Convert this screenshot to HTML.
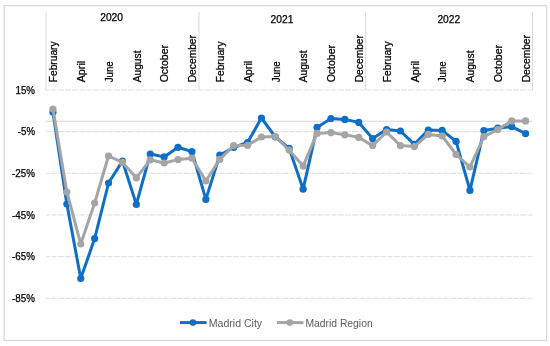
<!DOCTYPE html>
<html lang="en"><head><meta charset="utf-8"><title>Madrid City vs Madrid Region</title>
<style>html,body{margin:0;padding:0;background:#fff;overflow:hidden}svg{display:block}</style></head>
<body>
<svg width="550" height="346" viewBox="0 0 550 346" font-family="'Liberation Sans', sans-serif" font-size="10.0">
<rect x="0" y="0" width="550" height="346" fill="#fff"/>
<rect x="4.15" y="5.6" width="542.4" height="334.9" fill="#fff" stroke="#D9D9D9" stroke-width="1.3"/>
<line x1="46.0" x2="532.5" y1="90.00" y2="90.00" stroke="#DFDFDF" stroke-width="1" stroke-dasharray="5.7 1.3" stroke-dashoffset="1.8"/>
<text x="35.0" y="94" text-anchor="end" textLength="19.5" lengthAdjust="spacingAndGlyphs" fill="#000" stroke="#000" stroke-width="0.25">15%</text>
<line x1="46.0" x2="532.5" y1="131.66" y2="131.66" stroke="#DFDFDF" stroke-width="1" stroke-dasharray="5.7 1.3" stroke-dashoffset="1.8"/>
<text x="35.0" y="135" text-anchor="end" textLength="17.2" lengthAdjust="spacingAndGlyphs" fill="#000" stroke="#000" stroke-width="0.25">-5%</text>
<line x1="46.0" x2="532.5" y1="173.32" y2="173.32" stroke="#DFDFDF" stroke-width="1" stroke-dasharray="5.7 1.3" stroke-dashoffset="1.8"/>
<text x="35.0" y="177" text-anchor="end" textLength="22.9" lengthAdjust="spacingAndGlyphs" fill="#000" stroke="#000" stroke-width="0.25">-25%</text>
<line x1="46.0" x2="532.5" y1="214.98" y2="214.98" stroke="#DFDFDF" stroke-width="1" stroke-dasharray="5.7 1.3" stroke-dashoffset="1.8"/>
<text x="35.0" y="219" text-anchor="end" textLength="22.9" lengthAdjust="spacingAndGlyphs" fill="#000" stroke="#000" stroke-width="0.25">-45%</text>
<line x1="46.0" x2="532.5" y1="256.64" y2="256.64" stroke="#DFDFDF" stroke-width="1" stroke-dasharray="5.7 1.3" stroke-dashoffset="1.8"/>
<text x="35.0" y="260" text-anchor="end" textLength="22.9" lengthAdjust="spacingAndGlyphs" fill="#000" stroke="#000" stroke-width="0.25">-65%</text>
<line x1="46.0" x2="532.5" y1="298.30" y2="298.30" stroke="#DFDFDF" stroke-width="1" stroke-dasharray="5.7 1.3" stroke-dashoffset="1.8"/>
<text x="35.0" y="302" text-anchor="end" textLength="22.9" lengthAdjust="spacingAndGlyphs" fill="#000" stroke="#000" stroke-width="0.25">-85%</text>
<line x1="46.0" x2="532.5" y1="121.25" y2="121.25" stroke="#D6D6D6" stroke-width="1"/>
<line x1="46.00" x2="46.00" y1="12" y2="90.0" stroke="#D9D9D9" stroke-width="1"/>
<line x1="198.90" x2="198.90" y1="12" y2="90.0" stroke="#D9D9D9" stroke-width="1"/>
<line x1="365.70" x2="365.70" y1="12" y2="90.0" stroke="#D9D9D9" stroke-width="1"/>
<line x1="532.50" x2="532.50" y1="12" y2="90.0" stroke="#D9D9D9" stroke-width="1"/>
<text x="111.6" y="21.0" text-anchor="middle" textLength="22.8" lengthAdjust="spacingAndGlyphs" fill="#000" stroke="#000" stroke-width="0.25">2020</text>
<text x="282.0" y="22.7" text-anchor="middle" textLength="22.8" lengthAdjust="spacingAndGlyphs" fill="#000" stroke="#000" stroke-width="0.25">2021</text>
<text x="448.8" y="22.7" text-anchor="middle" textLength="22.8" lengthAdjust="spacingAndGlyphs" fill="#000" stroke="#000" stroke-width="0.25">2022</text>
<text transform="translate(57.25,82.3) rotate(-90)" textLength="40.9" lengthAdjust="spacingAndGlyphs" fill="#000" stroke="#000" stroke-width="0.25">February</text>
<text transform="translate(85.05,82.3) rotate(-90)" textLength="21.5" lengthAdjust="spacingAndGlyphs" fill="#000" stroke="#000" stroke-width="0.25">April</text>
<text transform="translate(112.85,82.3) rotate(-90)" textLength="21.0" lengthAdjust="spacingAndGlyphs" fill="#000" stroke="#000" stroke-width="0.25">June</text>
<text transform="translate(140.65,82.3) rotate(-90)" textLength="31.8" lengthAdjust="spacingAndGlyphs" fill="#000" stroke="#000" stroke-width="0.25">August</text>
<text transform="translate(168.45,82.3) rotate(-90)" textLength="37.3" lengthAdjust="spacingAndGlyphs" fill="#000" stroke="#000" stroke-width="0.25">October</text>
<text transform="translate(196.25,82.3) rotate(-90)" textLength="47.3" lengthAdjust="spacingAndGlyphs" fill="#000" stroke="#000" stroke-width="0.25">December</text>
<text transform="translate(224.05,82.3) rotate(-90)" textLength="40.9" lengthAdjust="spacingAndGlyphs" fill="#000" stroke="#000" stroke-width="0.25">February</text>
<text transform="translate(251.85,82.3) rotate(-90)" textLength="21.5" lengthAdjust="spacingAndGlyphs" fill="#000" stroke="#000" stroke-width="0.25">April</text>
<text transform="translate(279.65,82.3) rotate(-90)" textLength="21.0" lengthAdjust="spacingAndGlyphs" fill="#000" stroke="#000" stroke-width="0.25">June</text>
<text transform="translate(307.45,82.3) rotate(-90)" textLength="31.8" lengthAdjust="spacingAndGlyphs" fill="#000" stroke="#000" stroke-width="0.25">August</text>
<text transform="translate(335.25,82.3) rotate(-90)" textLength="37.3" lengthAdjust="spacingAndGlyphs" fill="#000" stroke="#000" stroke-width="0.25">October</text>
<text transform="translate(363.05,82.3) rotate(-90)" textLength="47.3" lengthAdjust="spacingAndGlyphs" fill="#000" stroke="#000" stroke-width="0.25">December</text>
<text transform="translate(390.85,82.3) rotate(-90)" textLength="40.9" lengthAdjust="spacingAndGlyphs" fill="#000" stroke="#000" stroke-width="0.25">February</text>
<text transform="translate(418.65,82.3) rotate(-90)" textLength="21.5" lengthAdjust="spacingAndGlyphs" fill="#000" stroke="#000" stroke-width="0.25">April</text>
<text transform="translate(446.45,82.3) rotate(-90)" textLength="21.0" lengthAdjust="spacingAndGlyphs" fill="#000" stroke="#000" stroke-width="0.25">June</text>
<text transform="translate(474.25,82.3) rotate(-90)" textLength="31.8" lengthAdjust="spacingAndGlyphs" fill="#000" stroke="#000" stroke-width="0.25">August</text>
<text transform="translate(502.05,82.3) rotate(-90)" textLength="37.3" lengthAdjust="spacingAndGlyphs" fill="#000" stroke="#000" stroke-width="0.25">October</text>
<text transform="translate(529.85,82.3) rotate(-90)" textLength="47.3" lengthAdjust="spacingAndGlyphs" fill="#000" stroke="#000" stroke-width="0.25">December</text>
<polyline points="52.95,112.20 66.85,204.00 80.75,278.50 94.65,238.60 108.55,183.00 122.45,161.00 136.35,204.40 150.25,154.00 164.15,156.90 178.05,147.30 191.95,151.60 205.85,199.40 219.75,155.00 233.65,147.50 247.55,142.50 261.45,118.00 275.35,137.00 289.25,148.40 303.15,189.20 317.05,127.40 330.95,118.60 344.85,119.40 358.75,122.40 372.65,138.60 386.55,129.60 400.45,131.00 414.35,144.40 428.25,130.00 442.15,130.40 456.05,141.40 469.95,190.40 483.85,130.60 497.75,128.20 511.65,126.60 525.55,133.60" fill="none" stroke="#0F6FC6" stroke-width="3.0" stroke-linejoin="round" stroke-linecap="round"/>
<circle cx="52.95" cy="112.20" r="3.6" fill="#0F6FC6"/>
<circle cx="66.85" cy="204.00" r="3.6" fill="#0F6FC6"/>
<circle cx="80.75" cy="278.50" r="3.6" fill="#0F6FC6"/>
<circle cx="94.65" cy="238.60" r="3.6" fill="#0F6FC6"/>
<circle cx="108.55" cy="183.00" r="3.6" fill="#0F6FC6"/>
<circle cx="122.45" cy="161.00" r="3.6" fill="#0F6FC6"/>
<circle cx="136.35" cy="204.40" r="3.6" fill="#0F6FC6"/>
<circle cx="150.25" cy="154.00" r="3.6" fill="#0F6FC6"/>
<circle cx="164.15" cy="156.90" r="3.6" fill="#0F6FC6"/>
<circle cx="178.05" cy="147.30" r="3.6" fill="#0F6FC6"/>
<circle cx="191.95" cy="151.60" r="3.6" fill="#0F6FC6"/>
<circle cx="205.85" cy="199.40" r="3.6" fill="#0F6FC6"/>
<circle cx="219.75" cy="155.00" r="3.6" fill="#0F6FC6"/>
<circle cx="233.65" cy="147.50" r="3.6" fill="#0F6FC6"/>
<circle cx="247.55" cy="142.50" r="3.6" fill="#0F6FC6"/>
<circle cx="261.45" cy="118.00" r="3.6" fill="#0F6FC6"/>
<circle cx="275.35" cy="137.00" r="3.6" fill="#0F6FC6"/>
<circle cx="289.25" cy="148.40" r="3.6" fill="#0F6FC6"/>
<circle cx="303.15" cy="189.20" r="3.6" fill="#0F6FC6"/>
<circle cx="317.05" cy="127.40" r="3.6" fill="#0F6FC6"/>
<circle cx="330.95" cy="118.60" r="3.6" fill="#0F6FC6"/>
<circle cx="344.85" cy="119.40" r="3.6" fill="#0F6FC6"/>
<circle cx="358.75" cy="122.40" r="3.6" fill="#0F6FC6"/>
<circle cx="372.65" cy="138.60" r="3.6" fill="#0F6FC6"/>
<circle cx="386.55" cy="129.60" r="3.6" fill="#0F6FC6"/>
<circle cx="400.45" cy="131.00" r="3.6" fill="#0F6FC6"/>
<circle cx="414.35" cy="144.40" r="3.6" fill="#0F6FC6"/>
<circle cx="428.25" cy="130.00" r="3.6" fill="#0F6FC6"/>
<circle cx="442.15" cy="130.40" r="3.6" fill="#0F6FC6"/>
<circle cx="456.05" cy="141.40" r="3.6" fill="#0F6FC6"/>
<circle cx="469.95" cy="190.40" r="3.6" fill="#0F6FC6"/>
<circle cx="483.85" cy="130.60" r="3.6" fill="#0F6FC6"/>
<circle cx="497.75" cy="128.20" r="3.6" fill="#0F6FC6"/>
<circle cx="511.65" cy="126.60" r="3.6" fill="#0F6FC6"/>
<circle cx="525.55" cy="133.60" r="3.6" fill="#0F6FC6"/>
<polyline points="52.95,109.00 66.85,192.00 80.75,244.00 94.65,203.00 108.55,156.00 122.45,162.40 136.35,177.80 150.25,159.80 164.15,163.00 178.05,159.60 191.95,158.20 205.85,181.00 219.75,159.40 233.65,145.60 247.55,145.30 261.45,137.00 275.35,136.60 289.25,150.20 303.15,166.10 317.05,133.40 330.95,132.60 344.85,134.80 358.75,137.40 372.65,145.60 386.55,132.00 400.45,145.60 414.35,146.60 428.25,134.40 442.15,136.00 456.05,154.40 469.95,167.00 483.85,136.60 497.75,129.60 511.65,120.90 525.55,120.90" fill="none" stroke="#A5A5A5" stroke-width="3.0" stroke-linejoin="round" stroke-linecap="round"/>
<circle cx="52.95" cy="109.00" r="3.6" fill="#A5A5A5"/>
<circle cx="66.85" cy="192.00" r="3.6" fill="#A5A5A5"/>
<circle cx="80.75" cy="244.00" r="3.6" fill="#A5A5A5"/>
<circle cx="94.65" cy="203.00" r="3.6" fill="#A5A5A5"/>
<circle cx="108.55" cy="156.00" r="3.6" fill="#A5A5A5"/>
<circle cx="122.45" cy="162.40" r="3.6" fill="#A5A5A5"/>
<circle cx="136.35" cy="177.80" r="3.6" fill="#A5A5A5"/>
<circle cx="150.25" cy="159.80" r="3.6" fill="#A5A5A5"/>
<circle cx="164.15" cy="163.00" r="3.6" fill="#A5A5A5"/>
<circle cx="178.05" cy="159.60" r="3.6" fill="#A5A5A5"/>
<circle cx="191.95" cy="158.20" r="3.6" fill="#A5A5A5"/>
<circle cx="205.85" cy="181.00" r="3.6" fill="#A5A5A5"/>
<circle cx="219.75" cy="159.40" r="3.6" fill="#A5A5A5"/>
<circle cx="233.65" cy="145.60" r="3.6" fill="#A5A5A5"/>
<circle cx="247.55" cy="145.30" r="3.6" fill="#A5A5A5"/>
<circle cx="261.45" cy="137.00" r="3.6" fill="#A5A5A5"/>
<circle cx="275.35" cy="136.60" r="3.6" fill="#A5A5A5"/>
<circle cx="289.25" cy="150.20" r="3.6" fill="#A5A5A5"/>
<circle cx="303.15" cy="166.10" r="3.6" fill="#A5A5A5"/>
<circle cx="317.05" cy="133.40" r="3.6" fill="#A5A5A5"/>
<circle cx="330.95" cy="132.60" r="3.6" fill="#A5A5A5"/>
<circle cx="344.85" cy="134.80" r="3.6" fill="#A5A5A5"/>
<circle cx="358.75" cy="137.40" r="3.6" fill="#A5A5A5"/>
<circle cx="372.65" cy="145.60" r="3.6" fill="#A5A5A5"/>
<circle cx="386.55" cy="132.00" r="3.6" fill="#A5A5A5"/>
<circle cx="400.45" cy="145.60" r="3.6" fill="#A5A5A5"/>
<circle cx="414.35" cy="146.60" r="3.6" fill="#A5A5A5"/>
<circle cx="428.25" cy="134.40" r="3.6" fill="#A5A5A5"/>
<circle cx="442.15" cy="136.00" r="3.6" fill="#A5A5A5"/>
<circle cx="456.05" cy="154.40" r="3.6" fill="#A5A5A5"/>
<circle cx="469.95" cy="167.00" r="3.6" fill="#A5A5A5"/>
<circle cx="483.85" cy="136.60" r="3.6" fill="#A5A5A5"/>
<circle cx="497.75" cy="129.60" r="3.6" fill="#A5A5A5"/>
<circle cx="511.65" cy="120.90" r="3.6" fill="#A5A5A5"/>
<circle cx="525.55" cy="120.90" r="3.6" fill="#A5A5A5"/>
<line x1="180" x2="206.6" y1="322.6" y2="322.6" stroke="#0F6FC6" stroke-width="3.0"/><circle cx="192.9" cy="322.6" r="3.3000000000000003" fill="#0F6FC6"/>
<text x="208.8" y="326.6" textLength="53.3" lengthAdjust="spacingAndGlyphs" fill="#595959">Madrid City</text>
<line x1="277" x2="303.4" y1="322.6" y2="322.6" stroke="#A5A5A5" stroke-width="3.0"/><circle cx="289.8" cy="322.6" r="3.3000000000000003" fill="#A5A5A5"/>
<text x="305.4" y="326.6" textLength="67.3" lengthAdjust="spacingAndGlyphs" fill="#595959">Madrid Region</text>
</svg>
</body></html>
